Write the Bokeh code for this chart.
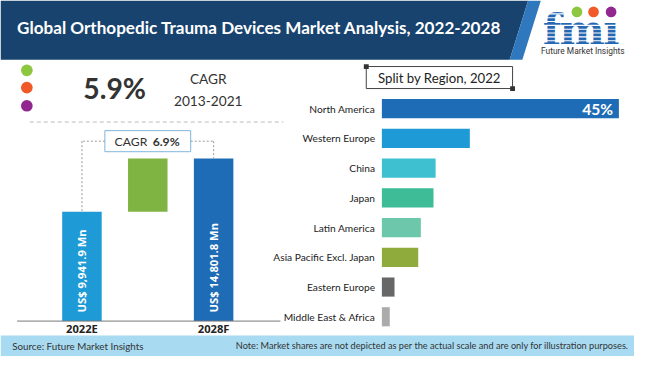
import math
from bokeh.plotting import figure
from bokeh.models import Range1d
from bokeh.core.properties import value
from bokeh.embed import file_html
from bokeh.resources import INLINE

# ---------------- data ----------------
title = "Global Orthopedic Trauma Devices Market Analysis, 2022-2028"
hist_cagr = 5.9
hist_period = "2013-2021"
fore_cagr = 6.9
years = ["2022E", "2028F"]
market_usd_mn = [9941.9, 14801.8]
regions = ["North America", "Western Europe", "China", "Japan", "Latin America",
           "Asia Pacific Excl. Japan", "Eastern Europe", "Middle East & Africa"]
region_share = [45.0, 16.7, 10.2, 9.8, 7.4, 6.9, 2.4, 1.5]
region_colors = ["#1f6cb6", "#1e9bd7", "#3fc0d1", "#3dbc97", "#6dc7aa",
                 "#8eab3c", "#676767", "#ababab"]
bar_colors = ["#1e9bd7", "#7fb443", "#1f6cb6"]
split_title = "Split by Region, 2022"
source_text = "Source: Future Market Insights"
note_text = ("Note: Market shares are not depicted as per the actual scale "
             "and are only for illustration purposes.")

# ---------------- canvas ----------------
W, H = 650, 372
PW, PH = 634, 356
S = PW / W


def fs(px):
    return f"{px * S:.1f}px"


p = figure(width=PW, height=PH, x_range=Range1d(0, W), y_range=Range1d(H, 0),
           output_backend="svg", toolbar_location=None, min_border=0,
           x_axis_location=None, y_axis_location=None)
p.grid.visible = False
p.outline_line_color = None
p.background_fill_color = "white"
p.border_fill_color = "white"


def txt(x, y, s, size, color="#333333", bold=False, align="left",
        baseline="middle", font="Lato", **kw):
    p.text(x=[x], y=[y], text=[s], text_font=value(font), text_font_size=fs(size),
           text_font_style="bold" if bold else "normal", text_color=color,
           text_align=align, text_baseline=baseline, **kw)


# ---------------- header ----------------
p.patch([0, 541, 522, 0], [0, 0, 62, 62], fill_color="#18436f", line_color=None)
p.patch([541, 554, 535, 522], [0, 0, 62, 62], fill_color="#2f78bd", line_color=None)
txt(17, 28, title, 17.5, color="white", bold=True)

# logo
p.text(x=[556, 573, 618], y=[30.5, 30.5, 30.5], text=["f", "m", "\u0131"],
       text_font=value("DejaVu Serif"), text_font_style="bold", text_font_size=fs(44),
       text_color="#2767b2", text_align="left", text_baseline="middle")
stripe_y = list(range(14, 48, 4))
p.segment(x0=[553] * len(stripe_y), y0=stripe_y, x1=[645] * len(stripe_y), y1=stripe_y,
          line_color="white", line_width=1.1)
p.circle(x=[591, 608, 626], y=[12, 12, 12], radius=5.5,
         fill_color=["#8dc63f", "#f05a28", "#92278f"], line_color=None)
txt(597, 53, "Future Market Insights", 8.6, color="#333333", align="center", font="Roboto")

# ---------------- left panel: CAGR ----------------
p.circle(x=[27, 27, 27], y=[73, 91, 110], radius=6,
         fill_color=["#8dc63f", "#f05a28", "#92278f"], line_color=None)
txt(117, 91, f"{hist_cagr}%", 29, color="#333333", bold=True, align="center")
txt(213, 81, "CAGR", 14, color="#333333", align="center")
txt(213, 105, hist_period, 14, color="#333333", align="center")
p.line(x=[30, 290], y=[127, 127], line_color="#bbbbbb", line_dash="4 3", line_width=1)

# left bar chart ranges
base_ref, top_ref = 335, 165
k = (base_ref - top_ref) / max(market_usd_mn)          # px per US$ Mn
p.extra_y_ranges["usd"] = Range1d(-(H - base_ref) / k, base_ref / k)
c0, step = 83.5, 67.5
p.extra_x_ranges["lx"] = Range1d(-c0 / step, (W - c0) / step)


def usd_at(yref):
    return (base_ref - yref) / k


bar_x = [0, 1, 2]
bar_bottom = [0, market_usd_mn[0], 0]
bar_top = [market_usd_mn[0], market_usd_mn[1], market_usd_mn[1]]
p.vbar(x=bar_x, bottom=bar_bottom, top=bar_top, width=0.6, fill_color=bar_colors,
       line_color=None, x_range_name="lx", y_range_name="usd")
p.line(x=[17, 287], y=[base_ref, base_ref], line_color="#777777", line_width=1)

p.text(x=[0, 2], y=[9 / k, 9 / k], text=[f"US$ {v:,.1f} Mn" for v in market_usd_mn],
       angle=math.pi / 2, text_align="left", text_baseline="middle",
       text_font=value("Open Sans"), text_font_style="bold", text_font_size=fs(11.5),
       text_color="white", x_range_name="lx", y_range_name="usd")
p.text(x=[0, 2], y=[-8 / k, -8 / k], text=years, text_align="center",
       text_baseline="middle", text_font=value("Open Sans"), text_font_style="bold",
       text_font_size=fs(11.5), text_color="#222222", x_range_name="lx", y_range_name="usd")

# CAGR box and bracket
p.quad(left=[107], right=[195], top=[136], bottom=[158], fill_color="white",
       line_color="#7fb5dc", line_width=1)
txt(117, 147, "CAGR", 12.5, color="#333333")
txt(156, 147, f"{fore_cagr}%", 12.5, color="#333333", bold=True)
box_mid = 147
p.line(x=[107, c0], y=[box_mid, box_mid], line_color="#999999", line_dash="2 2")
p.line(x=[195, c0 + 2 * step], y=[box_mid, box_mid], line_color="#999999", line_dash="2 2")
p.segment(x0=[0, 2], y0=[usd_at(box_mid)] * 2, x1=[0, 2], y1=market_usd_mn,
          line_color="#999999", line_dash="2 2", x_range_name="lx", y_range_name="usd")

# ---------------- right panel ----------------
p.quad(left=[375], right=[525], top=[69], bottom=[92], fill_color="white",
       line_color="#444444", line_width=1)
p.rect(x=[375, 525], y=[69, 92], width=5, height=5, fill_color="#333333", line_color=None)
txt(450, 80.5, split_title, 13.5, color="#222222", align="center")

x0_ref, full_len = 391, 243
k2 = full_len / max(region_share)
p.extra_x_ranges["pct"] = Range1d(-x0_ref / k2, (W - x0_ref) / k2)
r0, rstep = 113, 31.07
p.extra_y_ranges["ry"] = Range1d((H - r0) / rstep, -r0 / rstep)
ridx = list(range(len(regions)))
p.hbar(y=ridx, left=0, right=region_share, height=20 / rstep, fill_color=region_colors,
       line_color=None, x_range_name="pct", y_range_name="ry")
p.text(x=[-7 / k2] * len(regions), y=ridx, text=regions, text_align="right",
       text_baseline="middle", text_font=value("Lato"), text_font_size=fs(10.5),
       text_color="#222222", x_range_name="pct", y_range_name="ry")
p.text(x=[region_share[0] - 6 / k2], y=[0], text=[f"{region_share[0]:.0f}%"],
       text_align="right", text_baseline="middle", text_font=value("Lato"),
       text_font_style="bold", text_font_size=fs(16), text_color="white",
       x_range_name="pct", y_range_name="ry")

# ---------------- footer ----------------
p.quad(left=[0], right=[W], top=[350], bottom=[H], fill_color="#a8dbf1", line_color=None)
txt(12, 361, source_text, 10, color="#333333")
txt(644, 361, note_text, 9.4, color="#333333", align="right")

open("out.html", "w").write(file_html(p, INLINE))
